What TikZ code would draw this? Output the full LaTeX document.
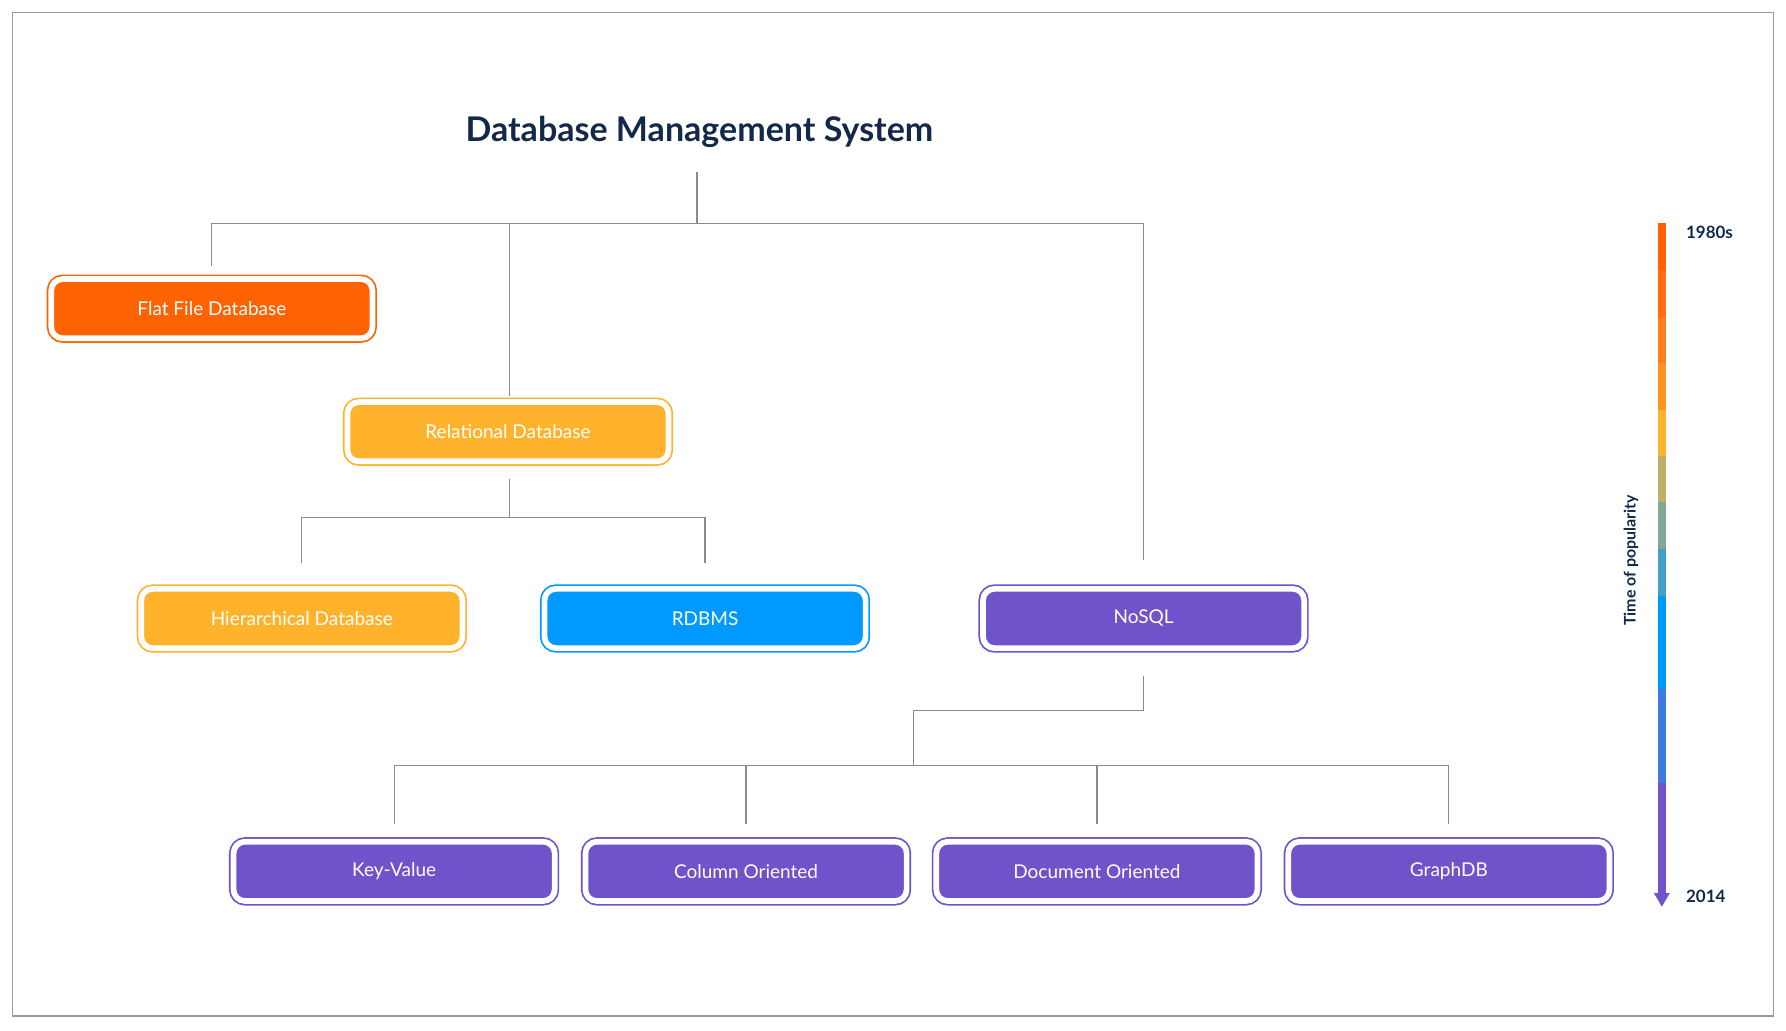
\documentclass[tikz,border=0pt]{standalone}
\usepackage{fontspec}
\setmainfont{Lato}
\usetikzlibrary{positioning}
\definecolor{navy}{HTML}{14294A}
\definecolor{cflat}{HTML}{FF6200}
\definecolor{crel}{HTML}{FFB32C}
\definecolor{crdb}{HTML}{0099FF}
\definecolor{cnosql}{HTML}{7052CA}
\definecolor{linkgray}{HTML}{8A8A8A}
\tikzset{
  dbbox/.style={rounded corners=0.2cm, draw=#1, fill=#1, double=white,
    double distance=0.1cm, line width=0.03cm, minimum width=5.64cm,
    minimum height=1.04cm, inner sep=0pt, text=white,
    font=\fontsize{9.5}{11}\selectfont},
  link/.style={draw=linkgray, line width=0.6pt},
  gapmark/.style={draw=white, line width=1.6pt, dash pattern=on 3pt off 2.5pt},
}
\newcommand{\gaps}[1]{\draw[gapmark] ([xshift=-0.3cm,yshift=0.02cm]#1.south) -- ([xshift=0.3cm,yshift=0.02cm]#1.south);}
\begin{document}
\begin{tikzpicture}[x=0.02cm, y=-0.02cm]
	\useasboundingbox (0,0) rectangle (1568,905);
	\draw[gray!80, line width=0.8pt] (11,11) rectangle (1557,892);
	% title
	\node[text=navy, font=\bfseries\fontsize{17}{20}\selectfont] (title) at (614,116) {Database Management System};
	% boxes
	\node[dbbox=cflat] (flat) at (186,271) {Flat File Database};
	\node[dbbox=crel] (rel) at (446,379) {Relational Database};
	\node[dbbox=crel] (hier) at (265,543) {Hierarchical Database};
	\node[dbbox=crdb] (rdbms) at (619,543) {RDBMS};
	\node[dbbox=cnosql] (nosql) at (1004,543) {NoSQL};
	\node[dbbox=cnosql] (kv) at (346,765) {Key-Value};
	\node[dbbox=cnosql] (col) at (655,765) {Column Oriented};
	\node[dbbox=cnosql] (doc) at (963,765) {Document Oriented};
	\node[dbbox=cnosql] (graph) at (1272,765) {GraphDB};
	\foreach \n in {flat,rel,hier,rdbms,nosql,kv,col,doc,graph}
		\gaps{\n}
	% connectors
	\coordinate (root) at (612,151);
	\coordinate (rootj) at (612,196);
	\coordinate (relj) at (447,454);
	\coordinate (nosqlj) at (802,624);
	\coordinate (leafj) at (802,672);
	\draw[link] (root) -- (rootj);
	\draw[link] (rootj) -| ([yshift=0.22cm]flat.north);
	\draw[link] (rootj) -| ([xshift=0.02cm,yshift=0.1cm]rel.north);
	\draw[link] (rootj) -| ([yshift=0.5cm]nosql.north);
	\draw[link] ([xshift=0.02cm,yshift=-0.3cm]rel.south) -- (relj);
	\draw[link] (relj) -| ([yshift=0.44cm]hier.north);
	\draw[link] (relj) -| ([yshift=0.44cm]rdbms.north);
	\draw[link] ([yshift=-0.48cm]nosql.south) |- (nosqlj) -- (leafj);
	\foreach \n in {kv,col,doc,graph}
		\draw[link] (leafj) -| ([yshift=0.3cm]\n.north);
	% time bar
	\foreach \ya/\yb/\c in {196/237/FF6200,237/278/FF6F0F,278/319/FF7F1A,319/360/FF9420,
		360/400/FFB32C,400/441/BFAE68,441/482/84A795,482/523/45A0C8,
		523/605/0099FF,605/687/3C7BE2,687/784/7052CA}{
		\definecolor{seg}{HTML}{\c}
		\fill[seg] (1455.5,\ya) rectangle (1462.5,\yb);
	}
	\coordinate (bartip) at (1459,796);
	\fill[cnosql] (1452,784) -- (1466,784) -- (bartip) -- cycle;
	\node[text=navy, font=\bfseries\fontsize{8.5}{10}\selectfont, anchor=west] (top) at (1474,204) {1980s};
	\node[text=navy, font=\bfseries\fontsize{8.5}{10}\selectfont, anchor=west] (bot) at (1474,787) {2014};
	\node[text=navy, font=\bfseries\fontsize{8}{10}\selectfont, rotate=90] (axis) at (1432,492) {Time of popularity};
\end{tikzpicture}
\end{document}
